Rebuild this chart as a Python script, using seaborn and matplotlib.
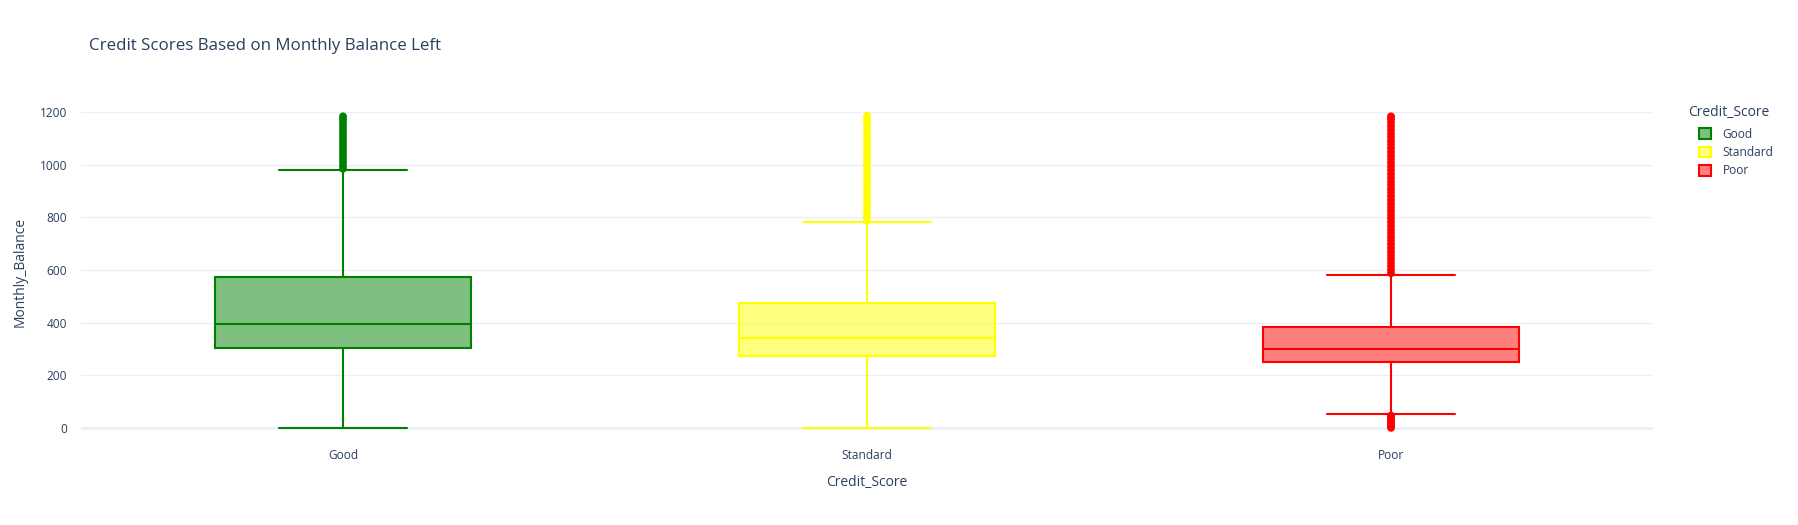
import numpy as np
import pandas as pd
import matplotlib
matplotlib.use("Agg")
import matplotlib.pyplot as plt
from matplotlib.colors import to_rgba
from matplotlib.patches import Patch
import seaborn as sns

## 数据
categories = ["Good", "Standard", "Poor"]
box_colors = ["green", "yellow", "red"]
whisker_low = [0, 0, 53]
q1 = [302, 274, 250]
median = [393, 342, 298]
q3 = [573, 476, 384]
whisker_high = [980, 782, 582]

good_fliers = [984, 996, 1009, 1021, 1034, 1046, 1059, 1071, 1084, 1097, 1109, 1122,
               1134, 1147, 1159, 1171, 1183]
standard_fliers = [787, 800, 814, 829, 843, 858, 872, 887, 901, 916, 930, 945, 959, 974,
                   988, 1003, 1017, 1032, 1046, 1061, 1075, 1090, 1104, 1119, 1133, 1148,
                   1162, 1174, 1185]
poor_fliers = [0, 6, 13, 20, 27, 34, 41, 47,
               587, 600, 614, 628, 642, 656, 670, 684, 698, 712, 726, 740, 754, 768, 782,
               796, 810, 824, 838, 852, 866, 880, 894, 908, 922, 936, 950, 964, 978, 992,
               1006, 1020, 1034, 1048, 1062, 1076, 1090, 1104, 1118, 1132, 1146, 1160,
               1172, 1183]

flier_df = pd.DataFrame({
    "Credit_Score": ["Good"] * len(good_fliers) + ["Standard"] * len(standard_fliers)
                    + ["Poor"] * len(poor_fliers),
    "Monthly_Balance": good_fliers + standard_fliers + poor_fliers,
})

sns.set_style("white")
plt.rcParams["font.family"] = ["Open Sans", "DejaVu Sans"]
text_color = "#2a3f5f"
grid_color = "#ebf0f8"

fig = plt.figure(figsize=(17.98, 5.25), dpi=100)
ax = fig.add_axes([81 / 1798, 1 - 445 / 525, (1653 - 81) / 1798, 345 / 525])

## 离群点
sns.stripplot(data=flier_df, x="Credit_Score", y="Monthly_Balance", hue="Credit_Score",
              order=categories, hue_order=categories, palette=box_colors, jitter=False,
              size=5.6, linewidth=0, legend=False, zorder=5, ax=ax)

## 箱体
stats = []
for i, c in enumerate(categories):
    stats.append({"label": c, "whislo": whisker_low[i], "q1": q1[i], "med": median[i],
                  "q3": q3[i], "whishi": whisker_high[i], "fliers": []})
bp = ax.bxp(stats, positions=[0, 1, 2], widths=0.49, capwidths=0.245, patch_artist=True,
            showfliers=False, manage_ticks=False)
for i, col in enumerate(box_colors):
    bp["boxes"][i].set_facecolor(to_rgba(col, 0.5))
    bp["boxes"][i].set_edgecolor(col)
    bp["boxes"][i].set_linewidth(1.5)
    bp["medians"][i].set_color(col)
    bp["medians"][i].set_linewidth(1.5)
    for art in bp["whiskers"][2 * i:2 * i + 2] + bp["caps"][2 * i:2 * i + 2]:
        art.set_color(col)
        art.set_linewidth(1.5)

ax.set_xlim(-0.5, 2.5)
ax.set_ylim(-65, 1245)
ax.set_yticks([0, 200, 400, 600, 800, 1000, 1200])
ax.set_xticks([0, 1, 2])
ax.set_xticklabels(categories)
ax.grid(axis="y", color=grid_color, linewidth=1)
ax.axhline(0, color=grid_color, linewidth=2, zorder=0)
ax.set_axisbelow(True)
sns.despine(ax=ax, left=True, bottom=True)
ax.tick_params(axis="both", length=0, labelsize=8.6, colors=text_color)
ax.tick_params(axis="x", pad=3)
ax.tick_params(axis="y", pad=10)
ax.set_xlabel("")
ax.set_ylabel("")

fig.text(867 / 1798, 1 - 482 / 525, "Credit_Score", ha="center", va="center",
         fontsize=10, color=text_color)
fig.text(20 / 1798, 1 - 272 / 525, "Monthly_Balance", ha="center", va="center",
         rotation=90, fontsize=10, color=text_color)
fig.text(89 / 1798, 1 - 46 / 525, "Credit Scores Based on Monthly Balance Left",
         ha="left", va="center", fontsize=12.2, color=text_color)

## 图例
fig.text(1688 / 1798, 1 - 113 / 525, "Credit_Score", ha="left", va="center",
         fontsize=10, color=text_color)
handles = [Patch(facecolor=to_rgba(c, 0.5), edgecolor=c, linewidth=1.5) for c in box_colors]
leg = fig.legend(handles, categories, loc="upper left",
                 bbox_to_anchor=(1688 / 1798, 1 - 117 / 525), frameon=False,
                 fontsize=8.6, handlelength=1.0, handleheight=1.0,
                 handletextpad=1.0, labelspacing=0.45)
for t in leg.get_texts():
    t.set_color(text_color)

fig.savefig("out.png", dpi=100)
